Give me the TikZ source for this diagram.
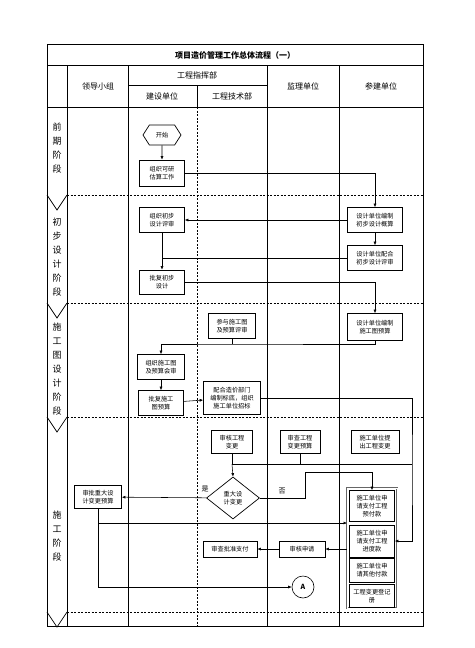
\documentclass[tikz,border=0pt]{standalone}
\usepackage{fontspec}
\setmainfont{Noto Sans CJK SC}
\usetikzlibrary{shapes.geometric,shapes.symbols,arrows.meta}
\begin{document}
\begin{tikzpicture}[x=1pt,y=-1pt,
  box/.style={draw, line width=0.7pt, inner sep=0pt, align=center, font=\fontsize{6.2}{8}\selectfont},
  arr/.style={-{Latex[length=3.5pt,width=3pt]}, line width=0.55pt},
  conn/.style={line width=0.55pt},
  hdr/.style={font=\fontsize{8}{10}\selectfont},
  phase/.style={align=center, font=\fontsize{9}{14}\selectfont},
  grid/.style={line width=0.7pt},
  lane/.style={line width=0.6pt, dash pattern=on 2pt off 1.5pt}]
\useasboundingbox (0,0) rectangle (474,648);
% frame and lanes
\draw[grid] (47,44) rectangle (423,626);
\draw[grid] (47,65) -- (423,65);
\draw[grid] (47,107) -- (423,107);
\draw[grid] (67,65) -- (67,626);
\draw[grid] (128,65) -- (128,626);
\draw[grid] (267,65) -- (267,626);
\draw[grid] (339,65) -- (339,626);
\draw[grid] (128,85) -- (267,85);
\draw[grid] (197,85) -- (197,107);
\draw[lane] (197,107) -- (197,626);
\foreach \y in {195,303,417,612}{
  \draw[lane] (67,\y) -- (423,\y);
  \draw[grid] (47,\y) -- (57,\y+15) -- (67,\y);
}
% header
\node[font=\bfseries\fontsize{8}{10}\selectfont] (title) at (235,55) {项目造价管理工作总体流程（一）};
\node[hdr] (ldxz) at (98,86) {领导小组};
\node[hdr] (gczh) at (197,75) {工程指挥部};
\node[hdr] (jsdw) at (162,96) {建设单位};
\node[hdr] (jsb) at (232,96) {工程技术部};
\node[hdr] (jldw) at (303,86) {监理单位};
\node[hdr] (cjdw) at (381,86) {参建单位};
% phases
\node[phase] (ph1) at (57,148) {前\\期\\阶\\段};
\node[phase] (ph2) at (57,257) {初\\步\\设\\计\\阶\\段};
\node[phase] (ph3) at (57,369) {施\\工\\图\\设\\计\\阶\\段};
\node[phase] (ph4) at (57,536) {施\\工\\阶\\段};
% nodes
\node[box, signal, signal to=west and east, signal pointer angle=115, minimum width=38, minimum height=20] (start) at (162,135) {开始};
\node[box, minimum width=45, minimum height=26] (keyan) at (162,173) {组织可研\\估算工作};
\node[box, minimum width=45, minimum height=25] (cbps) at (162,220) {组织初步\\设计评审};
\node[box, minimum width=45, minimum height=24] (pfcb) at (162,282) {批复初步\\设计};
\node[box, minimum width=55, minimum height=25] (gsj) at (375,220) {设计单位编制\\初步设计概算};
\node[box, minimum width=55, minimum height=25] (phps) at (375,258) {设计单位配合\\初步设计评审};
\node[box, minimum width=55, minimum height=27] (sgtys) at (375,327) {设计单位编制\\施工图预算};
\node[box, minimum width=47, minimum height=25] (cyps) at (232,326) {参与施工图\\及预算评审};
\node[box, minimum width=47, minimum height=25] (zzhs) at (161,367) {组织施工图\\及预算会审};
\node[box, minimum width=45, minimum height=25] (pfsgt) at (161,403) {批复施工\\图预算};
\node[box, minimum width=57, minimum height=33] (phzj) at (232,398) {配合造价部门\\编制标底，组织\\施工单位招标};
\node[box, minimum width=41, minimum height=23] (shbg) at (232,442) {审核工程\\变更};
\node[box, minimum width=40, minimum height=23] (scbg) at (300,442) {审查工程\\变更预算};
\node[box, minimum width=48, minimum height=23] (tcbg) at (375,442) {施工单位提\\出工程变更};
\node[box, diamond, minimum width=53, minimum height=42] (zdbg) at (233,498) {重大设\\计变更};
\node[box, minimum width=47, minimum height=23] (spzd) at (98,497) {审批重大设\\计变更预算};
\node[draw=gray!80!black, double, double distance=0.8pt, line width=0.5pt, minimum width=50, minimum height=120] (paygrp) at (372,548) {};
\node[box, minimum width=45, minimum height=31] (yfk) at (372,506) {施工单位申\\请支付工程\\预付款};
\node[box, minimum width=45, minimum height=32] (jdk) at (372,541) {施工单位申\\请支付工程\\进度款};
\node[box, minimum width=45, minimum height=24] (qtk) at (372,570) {施工单位申\\请其他付款};
\node[box, minimum width=45, minimum height=23] (djc) at (372,596) {工程变更登记\\册};
\node[box, minimum width=46, minimum height=16] (shsq) at (302,549) {审核申请};
\node[box, minimum width=54, minimum height=16] (scpz) at (230,549) {审查批准支付};
\node[draw, circle, line width=0.6pt, minimum size=22, inner sep=0pt, font=\rmfamily\bfseries\fontsize{7}{8}\selectfont] (cA) at (303,587) {A};
\node[font=\fontsize{7}{8}\selectfont] (yes) at (205,489) {是};
\node[font=\fontsize{7}{8}\selectfont] (no) at (282,491) {否};
% junctions
\coordinate (j1) at (232,344);
\coordinate (j2) at (232,464);
\coordinate (j3) at (412,464);
\coordinate (r1) at (412,470);
\coordinate (k1) at (305,472);
\coordinate (k2) at (347,523);
% connectors
\draw[arr] (start) -- (keyan);
\draw[arr] (keyan) -| (gsj);
\draw[arr] (gsj) -- (cbps);
\draw[arr] (gsj) -- (phps);
\draw[arr] (cbps) -- (pfcb);
\draw[conn] (phps.west) -- (phps.west -| cbps.south);
\draw[arr] (pfcb) -| (sgtys);
\draw[conn] (cyps) -- (j1);
\draw[arr] (sgtys.south) |- (j1) -| (zzhs.north);
\draw[arr] (zzhs) -- (pfsgt);
\draw[arr] (pfsgt) -- (phzj);
\draw[arr] (phzj) -| (r1) |- (jdk);
\draw[conn] (shbg) -- (j2);
\draw[conn] (scbg.south) |- (j2);
\draw[conn] (j2) -- (j3);
\draw[arr] (j2) -- (zdbg.north);
\draw[arr] (zdbg) -- (spzd);
\draw[arr] (zdbg) -| (k1) -| (yfk.north);
\draw[arr] (spzd) |- (k2);
\draw[arr] (spzd) |- (cA);
\draw[arr] (paygrp.west |- shsq) -- (shsq);
\draw[arr] (shsq) -- (scpz);
\end{tikzpicture}
\end{document}
